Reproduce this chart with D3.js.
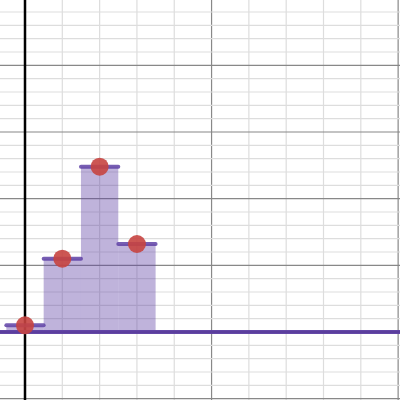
<!DOCTYPE html>
<html><head><meta charset="utf-8">
<script src="https://cdn.jsdelivr.net/npm/d3@7"></script>
<style>body{margin:0;background:#fff}</style>
</head><body>
<svg id="c" width="400" height="400"></svg>
<script>
// data
const xs = [0, 1, 2, 3];
const heights = [0.5, 5.5, 12.4, 6.6];
const barWidth = 1;

const W = 400, H = 400;
const x = d3.scaleLinear().domain([-0.67, 10.05]).range([0, W]);
const y = d3.scaleLinear().domain([-5.1, 24.9]).range([H, 0]);
const svg = d3.select("#c");

// minor grid
const minorX = d3.range(-0.5, 10.1, 1).concat([0, 1, 2, 3, 4, 5, 6, 7, 8, 9, 10]);
svg.append("g").selectAll("line").data(d3.range(-1, 11)).enter().append("line")
  .attr("x1", d => x(d)).attr("x2", d => x(d)).attr("y1", 0).attr("y2", H)
  .attr("stroke", d => d % 5 === 0 ? "#888" : "#ddd").attr("stroke-width", 1.2);
svg.append("g").selectAll("line").data(d3.range(-5, 25)).enter().append("line")
  .attr("y1", d => y(d)).attr("y2", d => y(d)).attr("x1", 0).attr("x2", W)
  .attr("stroke", d => d % 5 === 0 ? "#888" : "#ddd").attr("stroke-width", 1.2);

// axes
svg.append("line").attr("x1", x(0)).attr("x2", x(0)).attr("y1", 0).attr("y2", H)
  .attr("stroke", "#000").attr("stroke-width", 2.5);
svg.append("line").attr("y1", y(0)).attr("y2", y(0)).attr("x1", 0).attr("x2", W)
  .attr("stroke", "#000").attr("stroke-width", 2.5);

// bars
svg.append("g").selectAll("rect").data(xs).enter().append("rect")
  .attr("x", d => x(d - barWidth / 2)).attr("width", x(barWidth) - x(0))
  .attr("y", (d, i) => y(heights[i])).attr("height", (d, i) => y(0) - y(heights[i]))
  .attr("fill", "rgba(96,66,166,0.4)");

// baseline
svg.append("line").attr("x1", 0).attr("x2", W).attr("y1", y(0)).attr("y2", y(0))
  .attr("stroke", "#6042a6").attr("stroke-width", 4).attr("opacity", 0.95);

// tops
svg.append("g").selectAll("line").data(xs).enter().append("line")
  .attr("x1", d => x(d - 0.5)).attr("x2", d => x(d + 0.5))
  .attr("y1", (d, i) => y(heights[i])).attr("y2", (d, i) => y(heights[i]))
  .attr("stroke", "#6042a6").attr("stroke-width", 4).attr("stroke-linecap", "round").attr("opacity", 0.85);

// points
svg.append("g").selectAll("circle").data(xs).enter().append("circle")
  .attr("cx", d => x(d)).attr("cy", (d, i) => y(heights[i])).attr("r", 9)
  .attr("fill", "#c74440").attr("opacity", 0.9);
</script>
</body></html>
